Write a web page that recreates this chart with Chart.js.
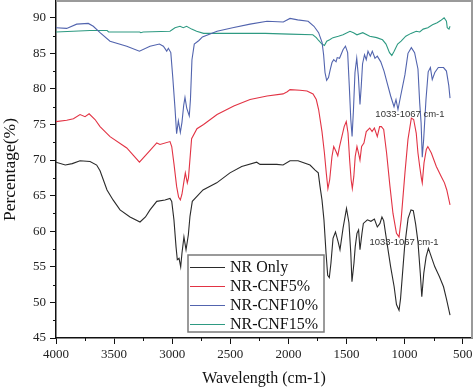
<!DOCTYPE html>
<html>
<head>
<meta charset="utf-8">
<script src="https://cdn.jsdelivr.net/npm/chart.js@4.4.1/dist/chart.umd.min.js"></script>
<style>
  html, body { margin: 0; padding: 0; background: #fff; }
  #wrap { width: 474px; height: 388px; }
</style>
</head>
<body>
<div id="wrap"><canvas id="myChart" width="474" height="388"></canvas></div>
<script>
// FTIR spectra, [wavenumber, transmittance %]
const nrOnly = [
  [4000,69.7],[3920,69.3],[3860,69.5],[3793,69.9],[3707,69.8],[3650,69.3],[3621,68.5],[3561,65.8],[3509,64.4],
  [3449,63.0],[3363,62.0],[3277,61.3],[3230,62.0],[3191,63.0],[3133,64.2],[3062,64.4],[3019,64.6],[3004,64.2],
  [2985,61.6],[2967,57.8],[2956,56.0],[2941,56.2],[2927,55.0],[2916,56.9],[2899,59.2],[2881,57.4],[2861,59.5],
  [2847,62.1],[2827,64.2],[2787,64.9],[2735,65.8],[2617,66.8],[2503,68.2],[2402,69.1],[2273,69.7],[2244,69.4],
  [2100,69.4],[2046,69.3],[1986,69.9],[1917,69.9],[1814,69.3],[1770,68.6],[1743,68.2],[1728,66.3],[1711,64.4],
  [1694,61.6],[1676,56.9],[1662,53.8],[1648,53.5],[1634,55.5],[1616,59.0],[1595,59.9],[1572,58.5],[1556,57.4],
  [1530,60.4],[1500,63.2],[1479,61.2],[1463,56.9],[1453,52.9],[1436,55.5],[1425,57.8],[1410,59.7],[1396,60.2],
  [1384,57.4],[1367,59.7],[1355,61.1],[1320,61.6],[1290,61.4],[1260,61.7],[1235,60.6],[1212,61.1],[1195,62.0],
  [1180,61.5],[1151,58.3],[1120,55.0],[1090,52.2],[1070,49.7],[1048,48.9],[1035,50.5],[1000,57.8],[970,61.8],
  [945,63.0],[925,62.9],[905,61.0],[885,58.5],[865,54.1],[852,50.8],[835,54.1],[815,56.4],[795,57.6],[770,56.4],
  [740,55.0],[700,53.6],[665,52.2],[640,50.5],[609,48.2]
];
const nrCnf5 = [
  [4000,75.4],[3908,75.6],[3850,75.8],[3793,76.4],[3750,76.1],[3715,76.5],[3664,75.7],[3621,74.7],[3535,73.3],
  [3391,71.7],[3282,69.7],[3200,71.2],[3133,72.4],[3105,72.2],[3019,72.6],[3004,71.9],[2985,69.5],[2962,66.3],
  [2945,64.8],[2930,64.4],[2916,65.2],[2901,66.8],[2887,68.2],[2870,66.8],[2860,67.5],[2833,73.0],[2787,74.4],
  [2730,75.0],[2614,76.4],[2470,77.6],[2330,78.5],[2184,79.0],[2046,79.3],[2010,79.6],[1986,79.9],[1900,79.8],
  [1840,79.7],[1788,79.3],[1760,78.5],[1740,77.1],[1711,74.0],[1690,71.0],[1673,68.0],[1660,66.0],[1645,67.2],
  [1625,70.5],[1610,71.9],[1590,71.2],[1575,70.6],[1560,71.9],[1540,73.3],[1520,74.7],[1502,75.4],[1487,73.8],
  [1473,70.0],[1460,67.2],[1450,66.0],[1437,67.7],[1425,70.5],[1410,71.9],[1397,71.0],[1384,70.0],[1370,71.9],
  [1350,72.4],[1330,74.0],[1300,74.5],[1280,74.0],[1260,74.5],[1235,73.3],[1215,74.7],[1200,74.7],[1180,74.3],
  [1155,71.0],[1126,66.3],[1100,62.5],[1070,59.7],[1048,59.2],[1030,61.6],[997,68.2],[971,72.9],[942,75.9],
  [922,75.7],[900,73.8],[885,71.0],[870,69.1],[856,67.5],[848,66.8],[833,69.6],[813,71.5],[800,71.9],[770,71.0],
  [727,69.1],[685,67.7],[657,66.8],[637,65.8],[609,63.7]
];
const nrCnf10 = [
  [4000,88.6],[3908,88.5],[3822,89.1],[3722,89.2],[3679,88.8],[3621,87.9],[3535,86.7],[3391,86.0],[3282,85.3],
  [3191,86.0],[3110,86.3],[3076,86.0],[3047,85.3],[3033,85.7],[3012,85.1],[2995,81.6],[2976,77.3],[2962,73.7],
  [2947,75.5],[2930,73.9],[2916,75.3],[2901,77.7],[2890,78.8],[2875,77.3],[2853,76.2],[2843,78.5],[2830,84.1],
  [2810,86.3],[2770,86.8],[2740,87.3],[2614,88.1],[2480,88.6],[2330,89.1],[2184,89.5],[2044,89.4],[1986,89.9],
  [1920,89.7],[1830,89.5],[1780,88.8],[1740,87.9],[1710,86.5],[1697,84.8],[1685,82.3],[1671,81.2],[1655,81.6],
  [1640,82.7],[1625,83.7],[1610,84.1],[1590,83.8],[1580,84.4],[1560,84.3],[1530,85.5],[1509,86.0],[1490,85.1],
  [1476,80.4],[1463,75.7],[1452,73.3],[1440,77.1],[1427,82.3],[1412,84.3],[1398,81.8],[1384,77.8],[1373,80.4],
  [1362,83.5],[1345,84.8],[1330,84.1],[1315,85.3],[1295,84.6],[1278,85.3],[1255,84.3],[1235,84.6],[1205,83.8],
  [1177,82.5],[1148,80.7],[1120,79.0],[1091,77.5],[1074,78.5],[1057,77.1],[1034,79.0],[997,82.0],[971,85.0],
  [942,85.8],[914,85.1],[885,82.8],[870,78.0],[858,75.2],[848,70.4],[836,72.9],[816,78.5],[797,82.4],[778,83.0],
  [762,81.3],[740,82.3],[710,83.0],[665,83.0],[640,82.5],[620,80.5],[609,78.7]
];
const nrCnf15 = [
  [4000,88.0],[3707,88.2],[3560,88.2],[3547,88.0],[3280,88.0],[3270,87.9],[3250,88.0],[3019,88.1],[2976,88.6],
  [2933,88.8],[2905,88.6],[2876,88.8],[2833,88.4],[2790,88.1],[2730,87.8],[2500,87.8],[2200,87.8],[1990,87.7],
  [1790,87.6],[1760,87.2],[1740,86.8],[1711,86.3],[1690,86.1],[1670,86.7],[1645,86.9],[1616,87.2],[1570,87.4],
  [1530,87.6],[1470,88.1],[1440,87.9],[1410,87.6],[1360,87.9],[1300,87.4],[1240,87.2],[1190,86.9],[1160,86.3],
  [1130,85.1],[1110,84.7],[1090,85.3],[1060,86.3],[1030,86.7],[990,87.4],[945,87.8],[900,88.1],[870,88.0],
  [840,88.4],[800,88.6],[760,89.0],[720,89.3],[690,89.6],[660,90.0],[640,89.5],[633,88.6],[618,88.4],[609,88.8]
];

const seriesLabels = ["NR Only", "NR-CNF5%", "NR-CNF10%", "NR-CNF15%"];
const seriesColors = ["#2a2a2a", "#e23344", "#5264ae", "#2e9a82"];
const xTicks = [4000, 3500, 3000, 2500, 2000, 1500, 1000, 500];
const yTicks = [45, 50, 55, 60, 65, 70, 75, 80, 85, 90];
const bandNotes = [
  { text: "1033-1067 cm-1", x: 954, y: 76.4 },
  { text: "1033-1067 cm-1", x: 1005, y: 58.5 }
];

const serif = "'Liberation Serif', 'Times New Roman', serif";

function toPoints(arr) {
  return arr.map(p => ({ x: p[0], y: p[1] }));
}

const allSeries = [nrOnly, nrCnf5, nrCnf10, nrCnf15];

// extra drawing: frame, minor ticks, legend box, band notes
const extras = {
  id: "extras",
  afterDraw(chart) {
    const ctx = chart.ctx;
    const area = chart.chartArea;
    const xs = chart.scales.x, ys = chart.scales.y;
    ctx.save();

    // gray top/right frame
    ctx.strokeStyle = "#9a9a9a";
    ctx.lineWidth = 2;
    ctx.beginPath();
    ctx.moveTo(area.left, area.top);
    ctx.lineTo(area.right, area.top);
    ctx.lineTo(area.right, area.bottom);
    ctx.stroke();

    // minor ticks
    ctx.strokeStyle = "#111";
    ctx.lineWidth = 1;
    ctx.beginPath();
    for (let w = 3750; w > 450; w -= 500) {
      const px = Math.round(xs.getPixelForValue(w)) + 0.5;
      ctx.moveTo(px, area.bottom);
      ctx.lineTo(px, area.bottom + 3);
    }
    for (let v = 47.5; v < 92; v += 5) {
      const py = Math.round(ys.getPixelForValue(v)) + 0.5;
      ctx.moveTo(area.left, py);
      ctx.lineTo(area.left - 3, py);
    }
    ctx.stroke();

    // band notes
    ctx.fillStyle = "#333";
    ctx.font = "9.5px 'Liberation Sans', Arial, sans-serif";
    ctx.textAlign = "center";
    ctx.textBaseline = "middle";
    for (const n of bandNotes) {
      ctx.fillText(n.text, xs.getPixelForValue(n.x), ys.getPixelForValue(n.y));
    }

    // legend
    const bx = 188, by = 255, bw = 136, bh = 77;
    ctx.fillStyle = "#fff";
    ctx.fillRect(bx, by, bw, bh);
    ctx.strokeStyle = "#7a7a7a";
    ctx.lineWidth = 1.5;
    ctx.strokeRect(bx, by, bw, bh);
    ctx.font = "16px " + serif;
    ctx.textAlign = "left";
    ctx.textBaseline = "middle";
    chart.data.datasets.forEach((ds, i) => {
      const cy = by + 12 + i * 19;
      ctx.strokeStyle = ds.borderColor;
      ctx.lineWidth = 1.2;
      ctx.beginPath();
      ctx.moveTo(bx + 2, cy + 0.5);
      ctx.lineTo(bx + 37, cy + 0.5);
      ctx.stroke();
      ctx.fillStyle = "#111";
      ctx.fillText(ds.label, bx + 42, cy + 1);
    });
    ctx.restore();
  }
};

const graphData = {
  datasets: allSeries.map((s, i) => ({
    label: seriesLabels[i],
    data: toPoints(s),
    borderColor: seriesColors[i],
    backgroundColor: seriesColors[i],
    borderWidth: 1.1,
    pointRadius: 0,
    tension: 0,
    fill: false
  }))
};

const config = {
  type: "line",
  data: graphData,
  options: {
    responsive: false,
    animation: false,
    devicePixelRatio: 1,
    layout: { padding: { top: 1, right: 2, left: 0, bottom: 0 } },
    plugins: { legend: { display: false }, tooltip: { enabled: false } },
    scales: {
      x: {
        type: "linear",
        reverse: true,
        min: 420,
        max: 4000,
        afterBuildTicks: s => { s.ticks = xTicks.map(v => ({ value: v })); },
        afterFit: s => { s.height = 50; s.paddingLeft = 0; s.paddingRight = 0; },
        border: { color: "#111", width: 1.5 },
        grid: { drawOnChartArea: false, drawTicks: true, tickLength: 6, tickColor: "#111" },
        ticks: { color: "#222", font: { family: serif, size: 13 }, padding: 3, maxRotation: 0, callback: v => String(v) },
        title: { display: true, text: "Wavelength (cm-1)", color: "#111", font: { family: serif, size: 16 }, padding: { top: 0, bottom: 0 } }
      },
      y: {
        min: 45,
        max: 92.35,
        afterBuildTicks: s => { s.ticks = yTicks.map(v => ({ value: v })); },
        afterFit: s => { s.width = 56; s.paddingTop = 0; s.paddingBottom = 0; },
        border: { color: "#111", width: 1.5 },
        grid: { drawOnChartArea: false, drawTicks: true, tickLength: 6, tickColor: "#111" },
        ticks: { color: "#222", font: { family: serif, size: 13 }, padding: 4, callback: v => String(v) },
        title: { display: true, text: "Percentage(%)", color: "#111", font: { family: serif, size: 17.5 }, padding: { top: 0, bottom: 0 } }
      }
    }
  },
  plugins: [extras]
};

const myChart = new Chart(document.getElementById("myChart"), config);
</script>
</body>
</html>
